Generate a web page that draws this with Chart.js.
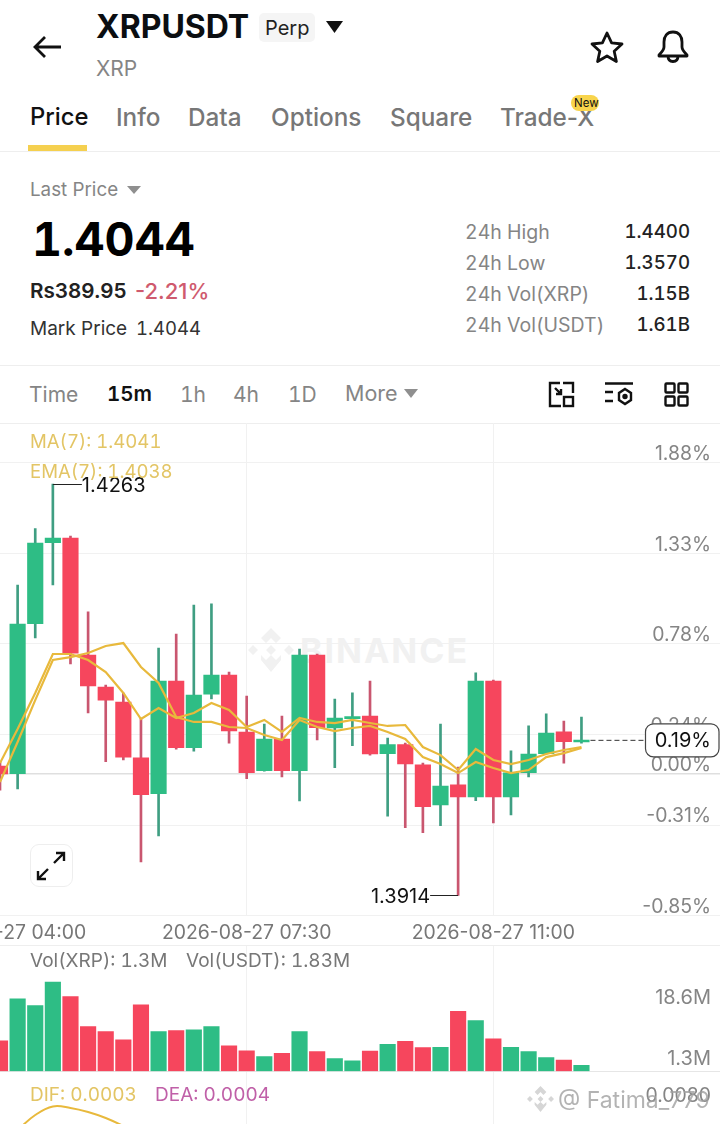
<!DOCTYPE html>
<html><head><meta charset="utf-8">
<script src="https://cdn.jsdelivr.net/npm/chart.js@4"></script>
<style>
html,body{margin:0;padding:0;background:#fff;width:720px;height:1124px;overflow:hidden;font-family:Inter,sans-serif}
#page{position:relative;width:720px;height:1124px;overflow:hidden}
.t{position:absolute;white-space:nowrap;transform:translateY(-50%);line-height:1}
.n{font-variant-numeric:tabular-nums}
.r{transform:translate(-100%,-50%)}
.hr{position:absolute;left:0;width:720px;height:1px;background:#eeeeee}
canvas{position:absolute;left:0}
svg{position:absolute;overflow:visible}
.g{color:#858585}
</style></head><body><div id="page">
<svg style="left:33px;top:36px" width="28" height="22" viewBox="0 0 28 22" fill="none" stroke="#111" stroke-width="2.8"><path d="M28 11H2M12 1L2 11l10 10"/></svg>
<span class="t" style="left:96px;top:27px;font-size:32px;font-weight:700;color:#0b0e11">XRPUSDT</span>
<div style="position:absolute;left:259px;top:13px;width:56px;height:29px;background:#f5f5f5;border-radius:5px"></div>
<span class="t" style="left:265px;top:28px;font-size:20px;color:#222">Perp</span>
<svg style="left:326px;top:21px" width="17" height="12"><path d="M0 0H17L8.5 12Z" fill="#111"/></svg>
<span class="t g" style="left:96px;top:68px;font-size:21px">XRP</span>
<svg style="left:590px;top:31px" width="34" height="32" viewBox="0 0 34 32" fill="none" stroke="#111" stroke-width="2.8" stroke-linejoin="round"><path d="M17 2l4.6 9.8 10.4 1.2-7.8 7.2 2.2 10.3L17 25l-9.4 5.5 2.2-10.3L2 13l10.4-1.2Z"/></svg>
<svg style="left:657px;top:30px" width="32" height="33" viewBox="0 0 32 33" fill="none" stroke="#111" stroke-width="2.8" stroke-linejoin="round"><path d="M16 2c-6 0-9 4.500-9 10v5c0 3-2 5-5 8v1h28v-1c-3-3-5-5-5-8v-5c0-5.500-3-10-9-10ZM11 26c0 4 2.500 5.500 5 5.500s5-1.500 5-5.500"/></svg>
<span class="t" style="left:30px;top:117px;font-size:23.800px;font-weight:500;color:#111">Price</span>
<span class="t" style="left:116px;top:117px;font-size:24.300px;color:#777;font-weight:500">Info</span>
<span class="t" style="left:188px;top:117px;font-size:24.300px;color:#777;font-weight:500">Data</span>
<span class="t" style="left:271px;top:117px;font-size:24.300px;color:#777;font-weight:500">Options</span>
<span class="t" style="left:390px;top:117px;font-size:24.300px;color:#777;font-weight:500">Square</span>
<span class="t" style="left:500px;top:117px;font-size:24.300px;color:#777;font-weight:500">Trade-X</span>
<div style="position:absolute;left:571px;top:95px;width:28px;height:16px;background:#f8d44c;border-radius:8px"></div>
<span class="t" style="left:574px;top:103.500px;font-size:11.500px;color:#111">New</span>
<div style="position:absolute;left:28px;top:145px;width:59px;height:6px;background:#f5d04f"></div>
<div class="hr" style="top:151px"></div>
<span class="t g" style="left:30px;top:190px;font-size:18.800px">Last Price</span>
<svg style="left:127px;top:186px" width="14" height="8"><path d="M0 0H14L7 8Z" fill="#8f8f8f"/></svg>
<span class="t n" style="left:32px;top:239px;font-size:46.500px;font-weight:700;color:#000">1.4044</span>
<span class="t" style="left:30px;top:291px;font-size:20.700px;font-weight:600;color:#222">Rs389.95</span>
<span class="t" style="left:135px;top:291px;font-size:22px;font-weight:500;color:#cf5a6e">-2.21%</span>
<span class="t" style="left:30px;top:328px;font-size:19px;color:#333">Mark Price</span>
<span class="t n" style="left:136px;top:328px;font-size:18.500px;color:#333">1.4044</span>
<span class="t g n" style="left:465px;top:232.500px;font-size:19.500px">24h High</span>
<span class="t g n" style="left:465px;top:263.500px;font-size:19.500px">24h Low</span>
<span class="t g n" style="left:465px;top:294.500px;font-size:19.500px">24h Vol(XRP)</span>
<span class="t g n" style="left:465px;top:325.500px;font-size:19.500px">24h Vol(USDT)</span>
<span class="t r n" style="left:690px;top:232px;font-size:18.700px;font-weight:500;color:#222">1.4400</span>
<span class="t r n" style="left:690px;top:263px;font-size:18.700px;font-weight:500;color:#222">1.3570</span>
<span class="t r n" style="left:690px;top:294px;font-size:18.700px;font-weight:500;color:#222">1.15B</span>
<span class="t r n" style="left:690px;top:325px;font-size:18.700px;font-weight:500;color:#222">1.61B</span>
<div class="hr" style="top:365px"></div>
<span class="t g" style="left:29px;top:394px;font-size:21px">Time</span>
<span class="t n" style="left:107px;top:394px;font-size:20.500px;font-weight:600;color:#111">15m</span>
<span class="t g n" style="left:180px;top:394px;font-size:21px">1h</span>
<span class="t g n" style="left:233px;top:394px;font-size:21px">4h</span>
<span class="t g n" style="left:288px;top:394px;font-size:21px">1D</span>
<span class="t g" style="left:345px;top:394px;font-size:21.500px">More</span>
<svg style="left:404px;top:389px" width="14" height="9"><path d="M0 0H14L7 9Z" fill="#8f8f8f"/></svg>
<svg style="left:549px;top:382px" width="25" height="25" viewBox="0 0 25 25" fill="none" stroke="#111" stroke-width="2.400"><path d="M11 1H1V24H12M14 1h10v10M6 6l6 6M12 7v5H7"/><rect x="15" y="15" width="9" height="9"/></svg>
<svg style="left:605px;top:382px" width="28" height="25" viewBox="0 0 28 25" fill="none" stroke="#111" stroke-width="2.400"><path d="M0 1.500H28M0 10H8M0 19H8M20 7l6 4v7l-6 4-6-4v-7Z"/><circle cx="20" cy="14.500" r="1.500" fill="#111"/></svg>
<svg style="left:664px;top:382px" width="25" height="25" viewBox="0 0 25 25" fill="none" stroke="#111" stroke-width="2.400"><rect x="1.500" y="1.500" width="9" height="9" rx="1"/><rect x="14.500" y="1.500" width="9" height="9" rx="1"/><rect x="1.500" y="14.500" width="9" height="9" rx="1"/><rect x="14.500" y="14.500" width="9" height="9" rx="1"/></svg>
<div class="hr" style="top:423px"></div>

<svg style="left:248px;top:628px" width="46" height="44" viewBox="0 0 46 44" fill="#f1f1f1"><path d="M23 0l10 10-5 5-5-5-5 5-5-5ZM5 17l5 5-5 5-5-5ZM41 17l5 5-5 5-5-5ZM23 17l5 5-5 5-5-5ZM13 27l5 5 5-5 5 5 5-5 0 5-10 12-10-12Z"/></svg>
<span class="t" style="left:300px;top:651px;font-size:34px;font-weight:700;color:#f1f1f1;letter-spacing:2px">BINANCE</span>

<canvas id="priceChart" style="top:423px" width="720" height="522"></canvas>
<canvas id="volChart" style="top:945px" width="720" height="127"></canvas>
<canvas id="macdChart" style="top:1072px" width="720" height="52"></canvas>

<span class="t n" style="left:30px;top:441px;font-size:18.600px;color:#e3c565">MA(7): 1.4041</span>
<span class="t n" style="left:30px;top:471px;font-size:18.600px;color:#e3c565">EMA(7): 1.4038</span>
<div style="position:absolute;left:30px;top:844px;width:41px;height:41px;border:1.500px solid #eeeeee;border-radius:9px;background:#fff"></div>
<svg style="left:37px;top:852px" width="28" height="28" viewBox="0 0 28 28" fill="none" stroke="#111" stroke-width="2.400"><path d="M17 11L27 1M19 1h8v8M11 17L1 27M1 19v8h8"/></svg>
<div class="hr" style="top:945px"></div>
<span class="t n" style="left:30px;top:960px;font-size:19px;color:#777">Vol(XRP): 1.3M</span>
<span class="t n" style="left:186px;top:960px;font-size:19px;color:#777">Vol(USDT): 1.83M</span>
<span class="t n" style="left:30px;top:1094px;font-size:19px;color:#e3c565">DIF: 0.0003</span>
<span class="t n" style="left:155px;top:1094px;font-size:19px;color:#c060a8">DEA: 0.0004</span>
<svg style="left:527px;top:1085px" width="27" height="28" viewBox="0 0 46 44" fill="#d6d6d6"><path d="M23 0l10 10-5 5-5-5-5 5-5-5ZM5 17l5 5-5 5-5-5ZM41 17l5 5-5 5-5-5ZM23 17l5 5-5 5-5-5ZM13 27l5 5 5-5 5 5 5-5 0 5-10 12-10-12Z"/></svg>
<span class="t" style="left:558px;top:1100px;font-size:23px;color:rgba(160,160,160,.8)">@ Fatima_779</span>
</div>
<script>
// ---- data ----
const openPrices = [1.40238,1.40173,1.41446,1.42134,1.42174,1.41180,1.40909,1.40781,1.40308,1.40003,1.40960,1.40393,1.40849,1.41011,1.40527,1.40198,1.40467,1.40198,1.41180,1.40561,1.40640,1.40663,1.40342,1.40419,1.40249,1.39907,1.40079,1.39975,1.40960,1.39975,1.40181,1.40342,1.40529,1.40442];
const closePrices = [1.40170,1.41444,1.42131,1.42174,1.41197,1.40917,1.40798,1.40314,1.39994,1.40960,1.40393,1.40841,1.41011,1.40535,1.40181,1.40467,1.40198,1.41180,1.40563,1.40646,1.40657,1.40340,1.40419,1.40255,1.39892,1.40068,1.39975,1.40960,1.39975,1.40181,1.40340,1.40518,1.40444,1.40456];
const highPrices = [1.40272,1.41775,1.42253,1.42632,1.42191,1.41548,1.40926,1.40858,1.40646,1.41240,1.41359,1.41605,1.41614,1.41036,1.40832,1.40595,1.40663,1.41231,1.41189,1.40807,1.40860,1.40960,1.40476,1.40433,1.40263,1.40595,1.40229,1.41030,1.40968,1.40368,1.40580,1.40680,1.40620,1.40654];
const lowPrices = [1.40034,1.40043,1.41325,1.41775,1.41104,1.40688,1.40274,1.40289,1.39423,1.39644,1.40382,1.40365,1.40807,1.40433,1.40130,1.40195,1.40145,1.39941,1.40459,1.40224,1.40410,1.40331,1.39813,1.39714,1.39672,1.39731,1.39140,1.39943,1.39754,1.39822,1.40145,1.40340,1.40263,1.40433];
const maValues = [1.40102,1.40442,1.40798,1.41138,1.41163,1.41197,1.41257,1.41282,1.41079,1.40943,1.40654,1.40612,1.40612,1.40569,1.40561,1.40501,1.40459,1.40629,1.40569,1.40535,1.40561,1.40578,1.40527,1.40467,1.40314,1.40255,1.40178,1.40272,1.40221,1.40178,1.40204,1.40314,1.40348,1.40391];
const emaValues = [1.40263,1.40552,1.40858,1.41189,1.41189,1.41138,1.41036,1.40858,1.40637,1.40730,1.40646,1.40688,1.40773,1.40713,1.40569,1.40629,1.40527,1.40646,1.40612,1.40603,1.40629,1.40603,1.40578,1.40586,1.40399,1.40331,1.40204,1.40382,1.40289,1.40255,1.40289,1.40340,1.40374,1.40399];
const volumes = [8.6,20.4,18.5,25.1,21.0,12.6,11.2,8.9,18.7,11.2,11.5,11.7,12.6,7.2,5.8,4.2,5.1,11.2,5.6,3.6,3.0,5.7,7.6,8.5,6.7,6.8,16.9,14.3,9.2,6.8,5.6,3.9,3.2,1.7];
const difValues = [0.00175,0.0055,0.00763,0.00725,0.00625,0.00475,0.00275,0.0005];
const difIndex = [1,2,3,4,5,6,7,8];
const basePrice = 1.4017;
const priceTicks = [1.42811,1.42042,1.41274,1.40505,1.40170,1.39737,1.38969];
const priceTickLabels = ["1.88%","1.33%","0.78%","0.24%","0.00%","-0.31%","-0.85%"];
const timeTicks = [0,14,28];
const timeLabels = ["2026-08-27 04:00","2026-08-27 07:30","2026-08-27 11:00"];
const volTicks = [18.6,1.3,0];
const volTickLabels = ["18.6M","1.3M",""];
const macdTicks = [0.008];
const macdTickLabels = ["0.0080"];
const highMark = {i:3,p:1.42632,label:"1.4263"};
const lowMark = {i:26,p:1.3914,label:"1.3914"};
const lastTag = "0.19%";

// ---- styling ----
const GREEN="#2EBD85",RED="#F6465D",WICK_G="#3f9e82",WICK_R="#c9566f",GRID="#f1f1f1",LINE="#e8b93c";
const FONT="Inter, sans-serif";
const idx = openPrices.map((_,i)=>i);
const up = idx.map(i=>closePrices[i]>=openPrices[i]);
const xMax = 720/17.62;
const gridX = {color:c=>c.tick&&c.tick.value===0?"transparent":GRID,lineWidth:1,drawTicks:false,offset:false};
const baseX = (labels)=>({type:"linear",min:0,max:xMax,offset:false,
  afterBuildTicks:s=>{s.ticks=timeTicks.map(v=>({value:v}));},
  grid:gridX,border:{display:false},
  ticks:labels?{display:true,autoSkip:false,maxRotation:0,padding:6,color:"#777",font:{family:FONT,size:19.4},
    callback:v=>timeLabels[timeTicks.indexOf(v)]}:{display:false}});
const baseOpts = {responsive:false,animation:false,layout:{padding:0,autoPadding:false},
  plugins:{legend:{display:false},tooltip:{enabled:false}},events:[]};
const yAxis = (min,max,ticks,labels,gridColor,size=19.4,offset=-8.5)=>({position:"right",min,max,
  afterBuildTicks:s=>{s.ticks=ticks.map(v=>({value:v}));},
  afterFit:s=>{s.width=0;s.paddingTop=0;s.paddingBottom=0;},
  grid:{color:gridColor,lineWidth:c=>c.tick&&c.tick.value===basePrice?1.6:1,drawTicks:false},border:{display:false},
  ticks:{mirror:true,padding:-9,labelOffset:offset,autoSkip:false,color:"#858585",font:{family:FONT,size},
    callback:v=>labels[ticks.indexOf(v)]}});

const annotate = {id:"annotate",afterDatasetsDraw(chart){
  const {ctx,scales:{x,y}}=chart;
  ctx.save();ctx.font="20px "+FONT;ctx.textBaseline="middle";ctx.fillStyle="#111";ctx.strokeStyle="#222";ctx.lineWidth=1;
  const hx=x.getPixelForValue(highMark.i),hy=Math.round(y.getPixelForValue(highMark.p))+.5;
  ctx.beginPath();ctx.moveTo(hx,hy);ctx.lineTo(hx+29,hy);ctx.stroke();
  ctx.textAlign="left";ctx.fillText(highMark.label,hx+29,hy+1);
  const lx=x.getPixelForValue(lowMark.i),ly=Math.round(y.getPixelForValue(lowMark.p))+.5;
  ctx.beginPath();ctx.moveTo(lx,ly);ctx.lineTo(lx-28,ly);ctx.stroke();
  ctx.textAlign="right";ctx.fillText(lowMark.label,lx-28,ly+1);
  // last price dashed guide and tag
  const n=closePrices.length-1,cx=x.getPixelForValue(n)+9,cy=y.getPixelForValue(closePrices[n]);
  ctx.setLineDash([5,3]);ctx.strokeStyle="#333";ctx.beginPath();ctx.moveTo(cx,cy);ctx.lineTo(645,cy);ctx.stroke();ctx.setLineDash([]);
  ctx.fillStyle="#fff";ctx.strokeStyle="#444";ctx.lineWidth=1.2;
  ctx.beginPath();ctx.roundRect(645.5,cy-16.5,73.5,33,8);ctx.fill();ctx.stroke();
  ctx.fillStyle="#111";ctx.textAlign="right";ctx.fillText(lastTag,711,cy+1);
  ctx.restore();
}};
const flatX = (h)=>(s)=>{s.height=h;s.paddingLeft=0;s.paddingRight=0;};

new Chart(document.getElementById("priceChart"),{type:"bar",
  data:{datasets:[
    {type:"line",data:idx.map(i=>({x:i,y:maValues[i]})),borderColor:LINE,borderWidth:2.2,pointRadius:0,tension:0,order:0},
    {type:"line",data:idx.map(i=>({x:i,y:emaValues[i]})),borderColor:LINE,borderWidth:2.2,pointRadius:0,tension:0,order:0},
    {data:idx.map(i=>({x:i,y:[openPrices[i],closePrices[i]]})),backgroundColor:idx.map(i=>up[i]?GREEN:RED),barThickness:15.5,grouped:false,order:1,minBarLength:2},
    {data:idx.map(i=>({x:i,y:[lowPrices[i],highPrices[i]]})),backgroundColor:idx.map(i=>up[i]?WICK_G:WICK_R),barThickness:2,grouped:false,order:2}
  ]},
  options:{...baseOpts,scales:{
    x:{...baseX(true),afterFit:flatX(29.5)},
    y:yAxis(1.38969,1.43150,priceTicks,priceTickLabels,c=>c.tick&&c.tick.value===basePrice?"#dfdfdf":GRID)
  }},plugins:[annotate]});

new Chart(document.getElementById("volChart"),{type:"bar",
  data:{datasets:[{data:idx.map(i=>({x:i,y:volumes[i]})),backgroundColor:idx.map(i=>up[i]?GREEN:RED),barThickness:15.5}]},
  options:{...baseOpts,scales:{
    x:{...baseX(false),afterFit:flatX(0.5)},
    y:yAxis(0,35.5,volTicks,volTickLabels,c=>c.tick&&c.tick.value===0?"#e6e6e6":"transparent",20,-7.5)
  }}});
new Chart(document.getElementById("macdChart"),{type:"line",
  data:{datasets:[{data:difIndex.map((v,i)=>({x:v,y:difValues[i]})),borderColor:LINE,borderWidth:2,pointRadius:0,tension:.4}]},
  options:{...baseOpts,scales:{
    x:{...baseX(false),afterFit:flatX(0)},
    y:yAxis(0.00325,0.01625,macdTicks,macdTickLabels,()=>"transparent")
  }}});
</script></body></html>
